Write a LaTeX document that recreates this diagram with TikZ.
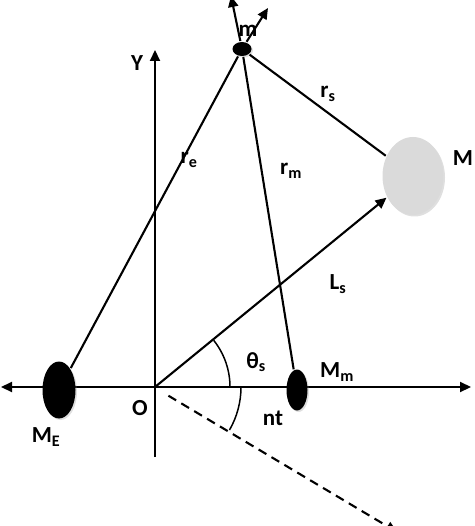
\documentclass[tikz,border=0pt]{standalone}
\usepackage{fontspec}
\setmainfont{Carlito}
\usetikzlibrary{arrows.meta,shapes.geometric,shadows,calc}
\definecolor{sungray}{RGB}{218,218,218}
\begin{document}
\begin{tikzpicture}[x=1pt,y=-1pt, line width=2.1pt,
  lbl/.style={font=\bfseries\fontsize{23}{26}\selectfont, inner sep=0pt},
  arr/.style={-{Triangle[length=11pt,width=10pt]}},
  blob/.style={ellipse, fill=black, inner sep=0pt, draw=none,
    drop shadow={shadow xshift=1.5pt, shadow yshift=-1.5pt, opacity=0.25}}]
\useasboundingbox (0,0) rectangle (474,526);
% axes
\coordinate (O) at (155,387);
\coordinate (xl) at (1,387);
\coordinate (xr) at (471,387);
\coordinate (yb) at (155,457);
\coordinate (yt) at (155,50);
\draw[arr] (O) -- (xr);
\draw[arr] (O) -- (xl);
\draw[arr] (yb) -- (yt);
% bodies
\node[blob, minimum width=33pt, minimum height=57pt] (ME) at (59,390) {};
\node[blob, minimum width=21pt, minimum height=41pt] (Mm) at (297,390) {};
\node[blob, minimum width=19pt, minimum height=14pt] (m) at (242,49) {};
\node[blob, fill=sungray, minimum width=61pt, minimum height=78pt] (S) at (413,176) {};
% connectors
\draw (m) -- (ME);
\draw (m) -- (Mm);
\draw (m) -- (S);
\draw[arr] (O) -- (S);
\coordinate (t1) at (231,-4);
\coordinate (t2) at (268,8);
\draw[arr] (m) -- (t1);
\draw[arr] (m) -- (t2);
% dashed direction
\coordinate (d0) at ($(O)+(33:16)$);
\coordinate (d1) at (397,532);
\draw[arr, dash pattern=on 9pt off 6pt] (d0) -- (d1);
% angle arcs
\draw[line width=1.5pt] ($(O)+(0:75)$) arc[start angle=0, end angle=-38.5, radius=75];
\draw[line width=1.5pt] ($(O)+(0:86)$) arc[start angle=0, end angle=30, radius=86];
% labels
\node[lbl] (lm) at (248,31) {m};
\node[lbl] (lY) at (137,63) {Y};
\node[lbl] (lO) at (140,408) {O};
\node[lbl] (lME) at (46,437) {M\textsubscript{E}};
\node[lbl] (lMm) at (337,372) {M\textsubscript{m}};
\node[lbl] (lM) at (463,158) {M};
\node[lbl] (lre) at (189,160) {r\textsubscript{e}};
\node[lbl] (lrm) at (291,171) {r\textsubscript{m}};
\node[lbl] (lrs) at (328,94) {r\textsubscript{s}};
\node[lbl] (lLs) at (338,284) {L\textsubscript{s}};
\node[lbl] (lth) at (256,362) {θ\textsubscript{s}};
\node[lbl] (lnt) at (273,418) {nt};
\end{tikzpicture}
\end{document}
